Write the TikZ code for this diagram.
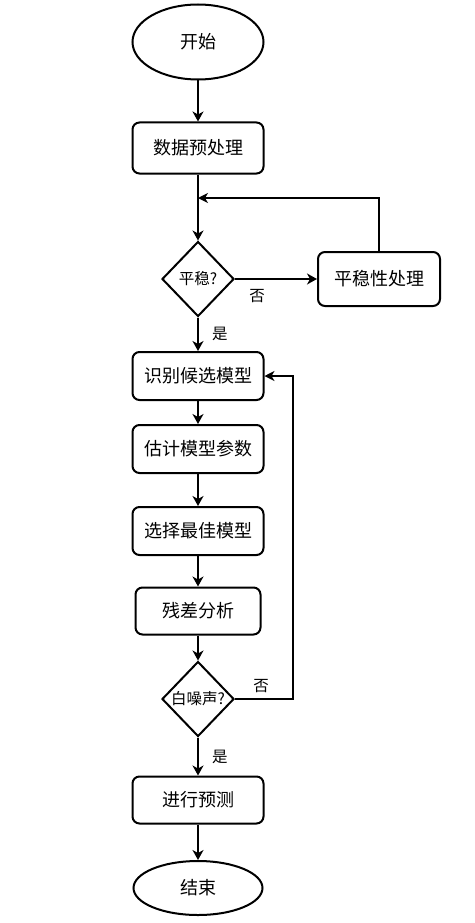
\documentclass[tikz,border=0pt]{standalone}
\usepackage{fontspec}
\setmainfont{Noto Sans CJK SC}
\usetikzlibrary{shapes.geometric,arrows.meta}

\begin{document}
\begin{tikzpicture}[x=1pt,y=-1pt,
    box/.style={draw,line width=2pt,rounded corners=7pt,minimum width=131pt,
      minimum height=48pt,inner sep=0pt,font=\fontsize{18}{20}\selectfont},
    term/.style={draw,ellipse,line width=2pt,inner sep=0pt,
      font=\fontsize{18}{20}\selectfont},
    check/.style={draw,diamond,line width=2pt,inner sep=0pt,
      minimum width=72pt,minimum height=75pt},
    tag/.style={font=\fontsize{15.5}{17}\selectfont},
    flow/.style={line width=1.5pt,-{Stealth[length=10pt,width=11pt,inset=3pt]}},
    back/.style={line width=1.2pt,-{Stealth[length=10pt,width=10pt,inset=3pt]}}]
    \useasboundingbox (0,0) rectangle (474,923);

    % main column
    \node[term,minimum width=131pt,minimum height=75pt] (start) at (198,42) {开始};
    \node[box,minimum height=51pt] (prep) at (198,148) {数据预处理};
    \node[check,label={[tag]center:平稳?}] (stable) at (198,279) {};
    \node[box,minimum width=122pt,minimum height=54pt] (fix) at (379,279) {平稳性处理};
    \coordinate (join) at (198,198);
    \node[box] (ident) at (198,376) {识别候选模型};
    \node[box] (est) at (198,449) {估计模型参数};
    \node[box] (pick) at (198,531) {选择最佳模型};
    \node[box,minimum width=125pt,minimum height=47pt] (resid) at (198,611) {残差分析};
    \node[check,label={[tag]center:白噪声?}] (noise) at (198,699) {};
    \node[box,minimum height=47pt] (pred) at (198,800) {进行预测};
    \node[term,minimum width=129pt,minimum height=54pt] (stop) at (198,888) {结束};

    % connectors
    \draw[flow] (start) -- (prep);
    \draw[flow] (prep) -- (stable);
    \draw[flow] (stable) -- (fix) node[tag,pos=0.27,below=6pt] {否};
    \draw[back] (fix.north) |- (join);
    \draw[flow] (stable) -- (ident) node[tag,midway,right=10pt] {是};
    \draw[flow] (ident) -- (est);
    \draw[flow] (est) -- (pick);
    \draw[flow] (pick) -- (resid);
    \draw[flow] (resid) -- (noise);
    % back to model identification
    \draw[back] (noise.east) -- ++(58,0) node[tag,pos=0.45,above=2pt] {否} |- (ident.east);
    \draw[flow] (noise) -- (pred) node[tag,midway,right=10pt] {是};
    \draw[flow] (pred) -- (stop);
\end{tikzpicture}
\end{document}
